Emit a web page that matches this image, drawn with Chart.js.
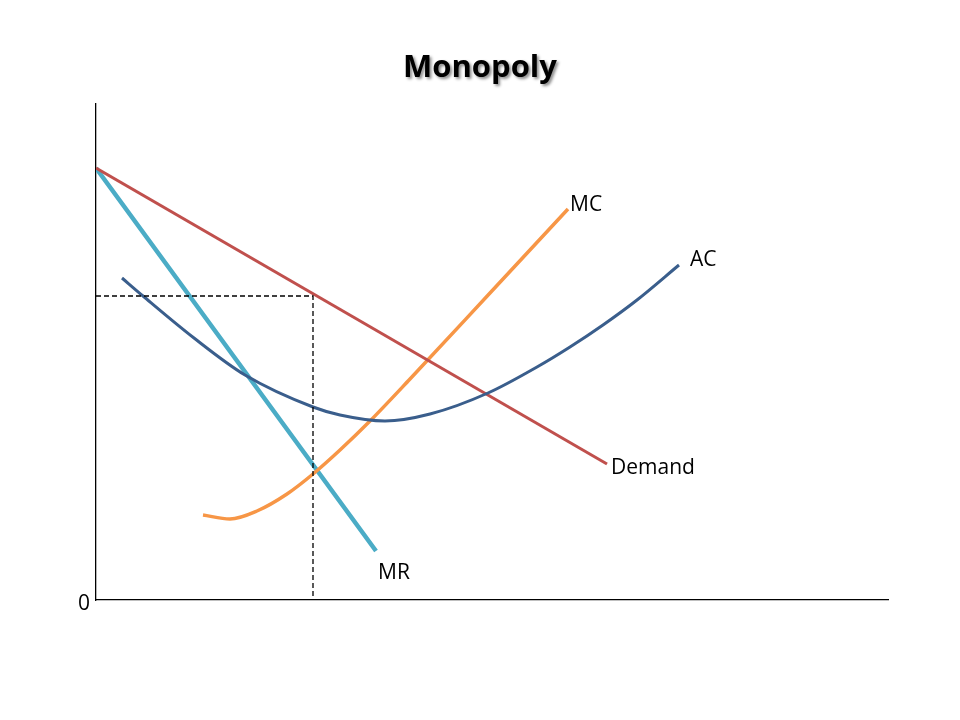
<!DOCTYPE html>
<html>
<head>
<meta charset="utf-8">
<script src="https://cdn.jsdelivr.net/npm/chart.js@4.4.1/dist/chart.umd.min.js"></script>
<style>
  body { margin: 0; background: #fff; }
  canvas { display: block; }
</style>
</head>
<body>
<canvas id="monopolyChart" width="960" height="720"></canvas>
<script>
// curve points (x = quantity, y = price, arbitrary units)
const demandPts = [[0, 432], [511, 136]];
const mrPts = [[0, 432], [280, 49]];
const mcPts = [[107, 85], [134, 81], [161, 89], [191, 106], [217, 126], [244, 150], [274, 179], [314, 221], [394, 307], [472, 391]];
const acPts = [[26, 322], [47, 304], [98, 262], [149, 225], [217, 193], [244, 185], [289, 179], [334, 186], [392, 207], [441, 233], [474, 253], [507, 275], [541, 300], [583, 335]];
const guidePts = [[0, 304], [217, 304], [217, 0]];

const curveLabels = ["Demand", "MR", "MC", "AC"];
const labelAnchors = [[515, 132], [282, 27], [474, 395], [594, 340]];
const originLabel = "0";
const chartTitle = "Monopoly";

const toXY = (pts) => pts.map((p) => ({ x: p[0], y: p[1] }));

// labels next to the curve ends + title with its drop shadow
const textPlugin = {
  id: "textPlugin",
  afterDraw(chart) {
    const ctx = chart.ctx;
    const xs = chart.scales.x;
    const ys = chart.scales.y;
    ctx.save();
    ctx.fillStyle = "#000";
    ctx.font = "21px 'Open Sans'";
    ctx.textAlign = "left";
    ctx.textBaseline = "middle";
    curveLabels.forEach((label, i) => {
      ctx.fillText(label, xs.getPixelForValue(labelAnchors[i][0]), ys.getPixelForValue(labelAnchors[i][1]));
    });
    ctx.textAlign = "right";
    ctx.fillText(originLabel, xs.getPixelForValue(0) - 6, ys.getPixelForValue(0) + 4);

    ctx.font = "bold 31px 'Open Sans'";
    ctx.textAlign = "center";
    ctx.shadowColor = "rgba(0,0,0,0.45)";
    ctx.shadowOffsetX = 2;
    ctx.shadowOffsetY = 2;
    ctx.shadowBlur = 3;
    ctx.fillText(chartTitle, 480, 68);
    ctx.restore();
  },
};

const lineDs = (label, pts, color, width, extra = {}) => ({
  label: label,
  data: toXY(pts),
  borderColor: color,
  borderWidth: width,
  pointRadius: 0,
  fill: false,
  cubicInterpolationMode: "monotone",
  ...extra,
});

new Chart(document.getElementById("monopolyChart").getContext("2d"), {
  type: "line",
  data: {
    datasets: [
      lineDs("guide", guidePts, "#000", 1.3, { borderDash: [5, 3], cubicInterpolationMode: "default", tension: 0 }),
      lineDs("AC", acPts, "#3A5E8C", 3),
      lineDs("Demand", demandPts, "#C0504D", 3),
      lineDs("MC", mcPts, "#F79646", 3.5),
      lineDs("MR", mrPts, "#4BACC6", 4.5),
    ],
  },
  options: {
    responsive: false,
    animation: false,
    layout: {
      padding: { left: 96, right: 72, top: 104, bottom: 120 },
    },
    scales: {
      x: {
        type: "linear",
        min: 0,
        max: 792,
        ticks: { display: false },
        grid: { display: false, drawTicks: false },
        border: { display: true, color: "#000", width: 1.3 },
      },
      y: {
        type: "linear",
        min: 0,
        max: 496,
        ticks: { display: false },
        grid: { display: false, drawTicks: false },
        border: { display: true, color: "#000", width: 1.3 },
      },
    },
    plugins: {
      legend: { display: false },
      tooltip: { enabled: false },
    },
  },
  plugins: [textPlugin],
});
</script>
</body>
</html>
